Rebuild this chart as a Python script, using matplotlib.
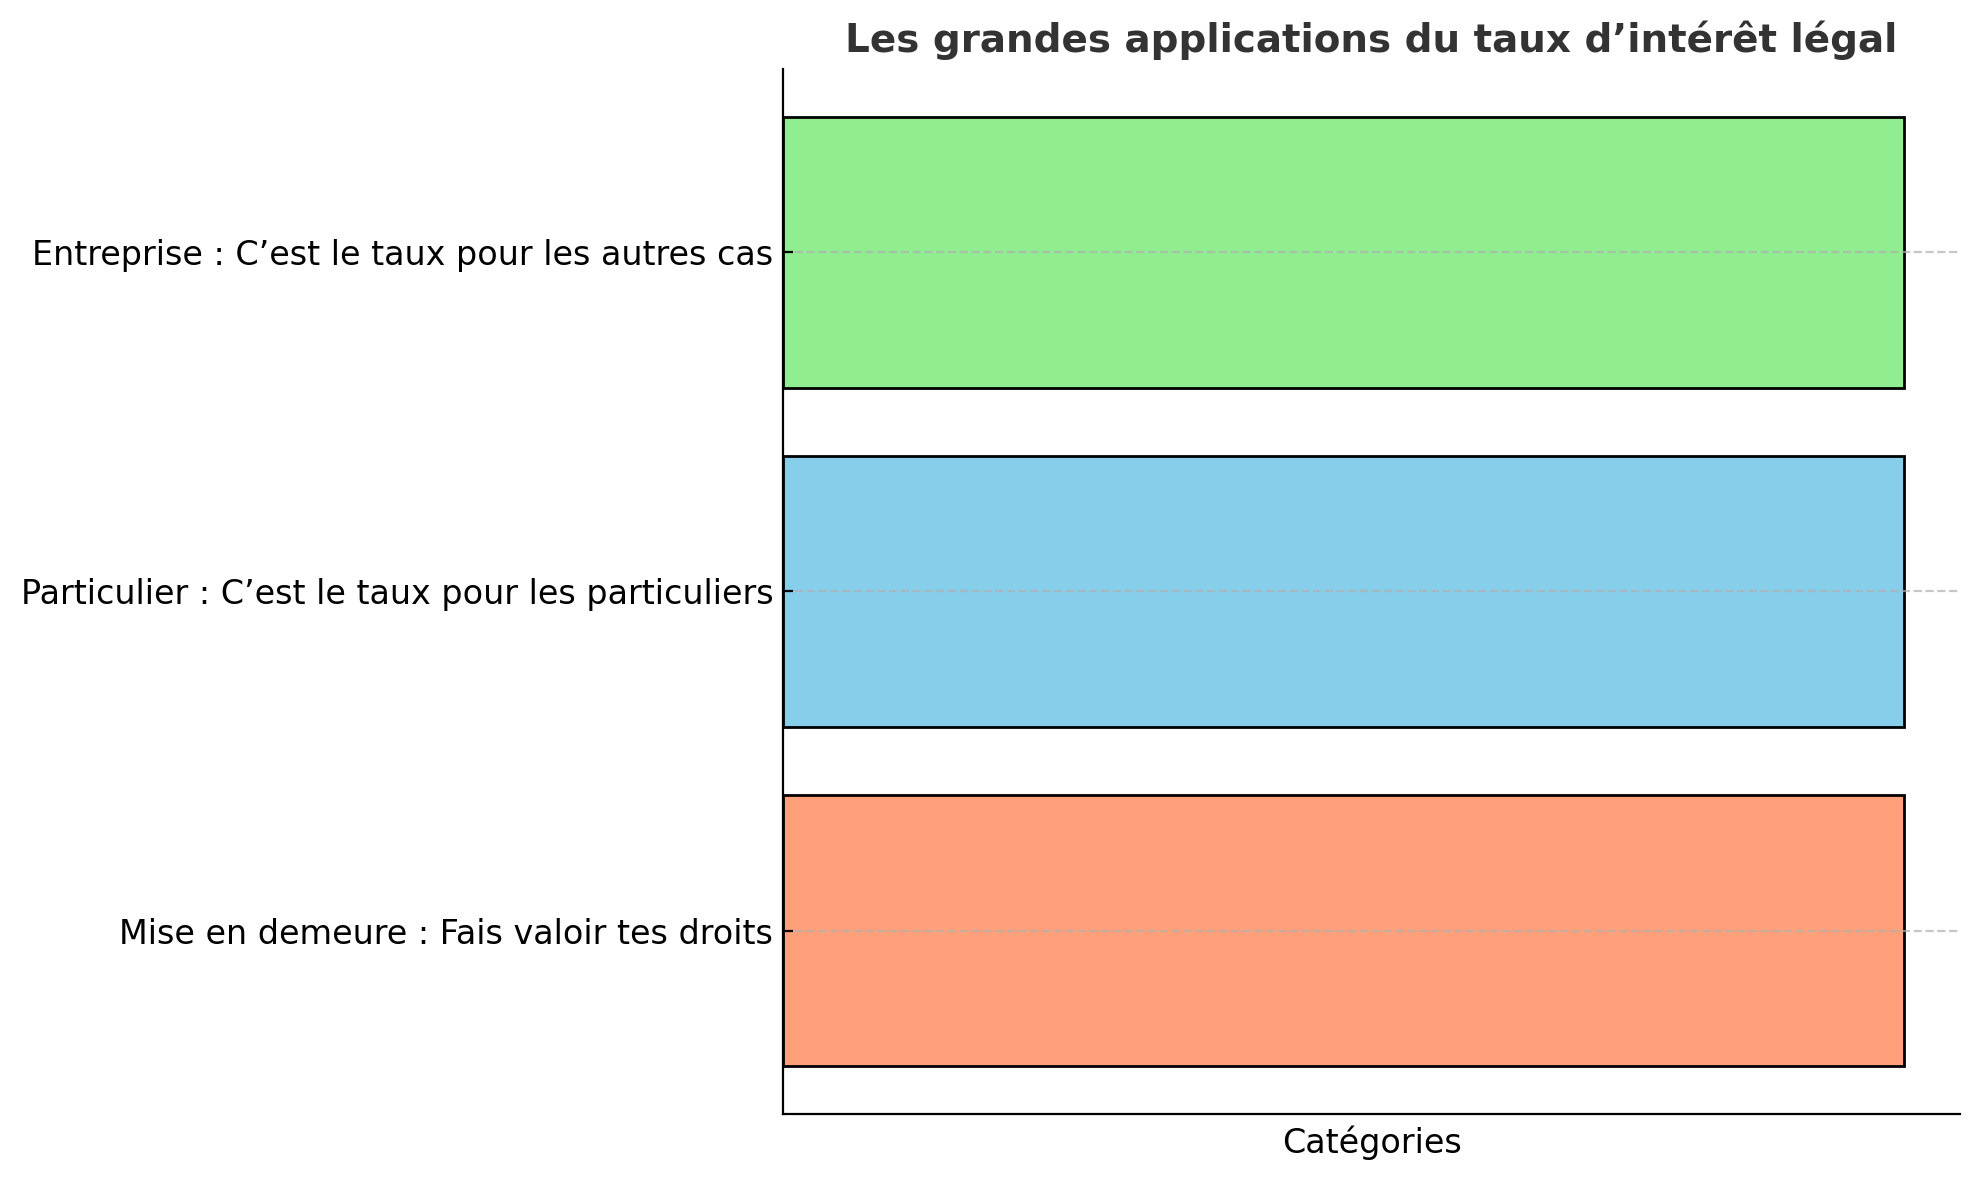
import matplotlib
matplotlib.use("Agg")
import matplotlib.pyplot as plt

categories = [
    "Mise en demeure : Fais valoir tes droits",
    "Particulier : C\u2019est le taux pour les particuliers",
    "Entreprise : C\u2019est le taux pour les autres cas",
]
values = [1, 1, 1]
colors = ["lightsalmon", "skyblue", "lightgreen"]

fig = plt.figure(figsize=(9.9, 5.9), dpi=200)
ax = fig.add_axes([0.3955, 0.056, 0.5945, 0.8855])

ax.barh(categories, values, color=colors, edgecolor="black")
ax.set_title("Les grandes applications du taux d\u2019int\u00e9r\u00eat l\u00e9gal",
             fontsize=14, fontweight="bold", color="#333333")
ax.set_xlabel("Cat\u00e9gories", fontsize=12)
ax.set_xticks([])
ax.tick_params(axis="y", labelsize=12, direction="in")
ax.grid(axis="y", linestyle="--", alpha=0.7)
ax.spines["top"].set_visible(False)
ax.spines["right"].set_visible(False)

fig.savefig("out.png", dpi=200)
